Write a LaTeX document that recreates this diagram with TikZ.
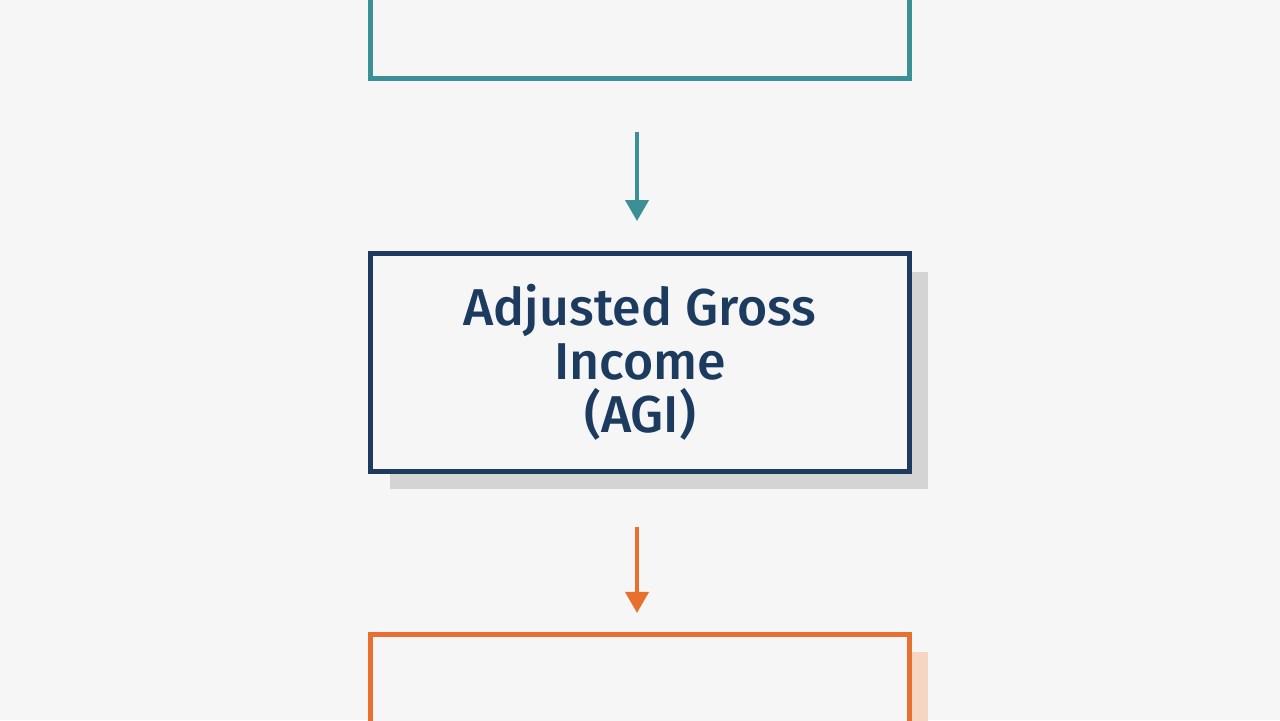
\documentclass[tikz,border=0pt]{standalone}
\usepackage{fontspec}
\setmainfont{Fira Sans}[UprightFont = * Medium]
\usetikzlibrary{positioning,arrows.meta,shadows}
\definecolor{tealline}{HTML}{3B9098}
\definecolor{navyline}{HTML}{1C3B5E}
\definecolor{orangeline}{HTML}{E8702F}
\definecolor{bgcol}{HTML}{F6F6F6}
\definecolor{shadowgray}{HTML}{D4D4D4}
\definecolor{shadoworange}{HTML}{F6D6C3}

\begin{document}
\begin{tikzpicture}[
			x = 0.02cm, y = -0.02cm,
			stepbox/.style = {draw, line width = 0.1cm, fill = bgcol, inner sep = 0pt, outer sep = 0pt,
				minimum width = 10.78cm, minimum height = 4.36cm, align = center},
			flow/.style = {line width = 0.08cm, -{Triangle[width = 0.46cm, length = 0.42cm]}},
			boxshadow/.style = {drop shadow = {shadow xshift = 0.38cm, shadow yshift = -0.36cm, fill = #1, opacity = 1}}]

			\clip (0,0) rectangle (1280,720);
			\fill[bgcol] (0,0) rectangle (1280,720);

			\node[stepbox, draw = navyline, text = navyline, boxshadow = shadowgray,
				font = \fontsize{29.5}{30.5}\selectfont] (agi) at (640,362.5)
				{Adjusted Gross\\Income\\(AGI)};
			\node[stepbox, draw = tealline, above = 3.5cm of agi] (gross) {};
			\node[stepbox, draw = orangeline, boxshadow = shadoworange, below = 3.26cm of agi] (taxable) {};

			\draw[flow, tealline, shorten <= 1.07cm, shorten >= 0.65cm] ([xshift = -0.06cm]gross.south) -- ([xshift = -0.06cm]agi.north);
			\draw[flow, orangeline, shorten <= 1.11cm, shorten >= 0.43cm] ([xshift = -0.06cm]agi.south) -- ([xshift = -0.06cm]taxable.north);

		\end{tikzpicture}
\end{document}
